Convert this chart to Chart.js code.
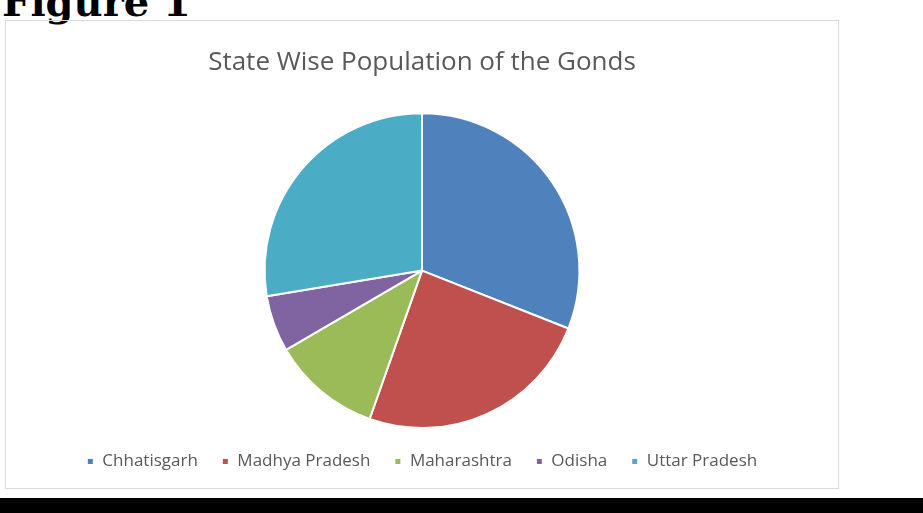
<!DOCTYPE html>
<html>
<head>
<meta charset="utf-8">
<script src="https://cdn.jsdelivr.net/npm/chart.js@4"></script>
<style>
  body { margin: 0; width: 923px; height: 513px; background: #fff; position: relative; overflow: hidden; }
  #fig { position: absolute; left: 2px; top: -22px; font: bold 40px "DejaVu Serif", serif; color: #000; }
  #box { position: absolute; left: 5px; top: 20px; width: 832px; height: 467px; border: 1px solid #d9d9d9; }
  #bar { position: absolute; left: 0; top: 498px; width: 923px; height: 15px; background: #000; }
</style>
</head>
<body>
<div id="fig">Figure 1</div>
<div id="box"><canvas id="pie-target" width="832" height="467"></canvas></div>
<div id="bar"></div>
<script>
const states = ['Chhatisgarh', 'Madhya Pradesh', 'Maharashtra', 'Odisha', 'Uttar Pradesh'];
const population = [31.0, 24.4, 11.2, 5.8, 27.6];
const colors = ['#4f81bd', '#c0504d', '#9bbb59', '#8064a2', '#4bacc6'];

window.onload = () => {
    const target = document.getElementById('pie-target');
    new Chart(target, {
        type: 'pie',
        data: {
            labels: states,
            datasets: [{
                data: population,
                backgroundColor: colors,
                borderColor: '#fff',
                borderWidth: 2,
            }],
        },
        options: {
            responsive: false,
            animation: false,
            layout: { padding: { bottom: 8 } },
            plugins: {
                title: {
                    display: true,
                    text: 'State Wise Population of the Gonds',
                    color: '#595959',
                    font: { family: 'Open Sans', size: 26, weight: 'normal' },
                    padding: { top: 26, bottom: 34 },
                },
                legend: {
                    position: 'bottom',
                    labels: {
                        color: '#595959',
                        font: { family: 'Open Sans', size: 17 },
                        boxWidth: 7,
                        boxHeight: 7,
                        padding: 24,
                    },
                },
                tooltip: { enabled: false },
            },
        },
    });
};
</script>
</body>
</html>
